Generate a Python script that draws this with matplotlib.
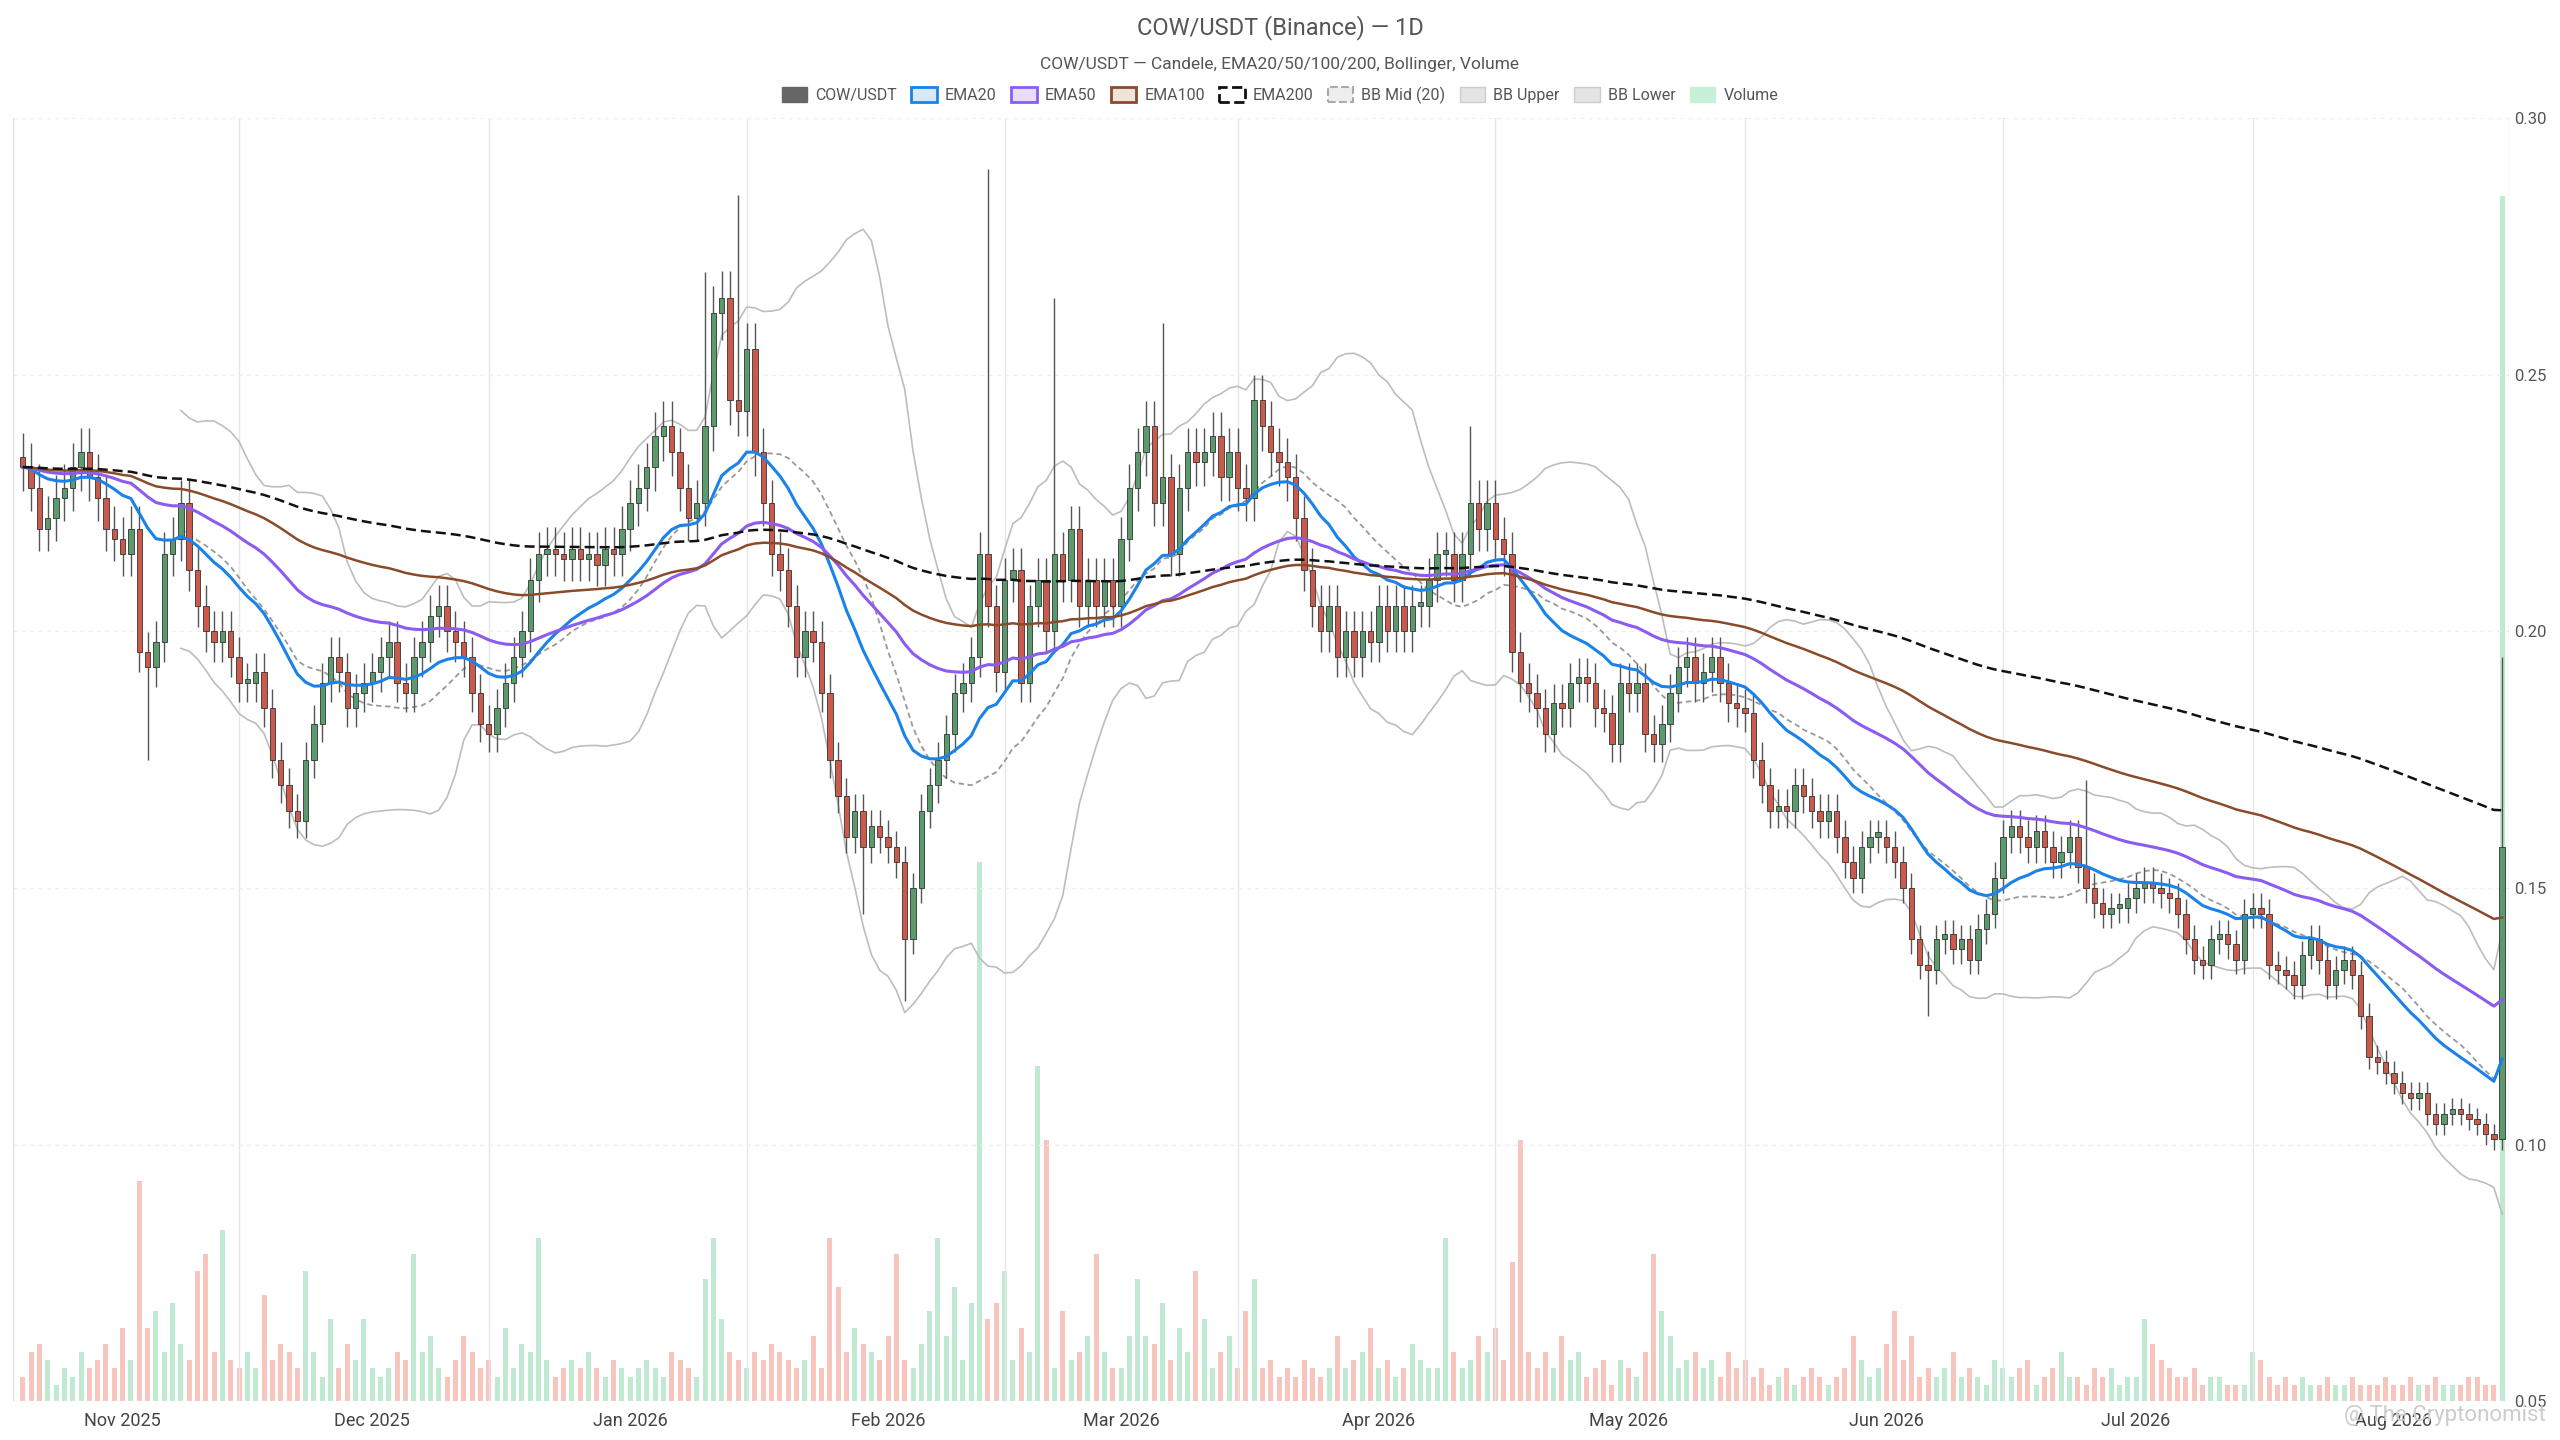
import matplotlib
matplotlib.use('Agg')
import matplotlib.pyplot as plt
import matplotlib.dates as mdates
from matplotlib.patches import Patch
import numpy as np
import pandas as pd

plt.rcParams['font.family'] = ['Roboto', 'DejaVu Sans']

dates = pd.date_range('2025-10-20', '2026-08-14', freq='D')

closes = [
    # Oct 20 - Nov 2
    0.232, 0.228, 0.220, 0.222, 0.226, 0.228, 0.232, 0.235, 0.230, 0.226, 0.220, 0.218, 0.215, 0.220,
    # Nov 3 - Nov 30
    0.196, 0.193, 0.198, 0.215, 0.218, 0.225, 0.212, 0.205, 0.200, 0.198, 0.200, 0.195, 0.190, 0.190,
    0.192, 0.185, 0.175, 0.170, 0.165, 0.163, 0.175, 0.182, 0.190, 0.195, 0.192, 0.185, 0.188, 0.190,
    # Dec
    0.192, 0.195, 0.198, 0.190, 0.188, 0.195, 0.198, 0.203, 0.205, 0.200, 0.198, 0.195, 0.188, 0.182,
    0.180, 0.185, 0.190, 0.195, 0.200, 0.210, 0.215, 0.216, 0.215, 0.214, 0.216, 0.214, 0.215, 0.213,
    0.216, 0.215, 0.220,
    # Jan
    0.225, 0.228, 0.232, 0.238, 0.240, 0.235, 0.228, 0.222, 0.225, 0.240, 0.262, 0.265, 0.245, 0.243,
    0.255, 0.235, 0.225, 0.215, 0.212, 0.205, 0.195, 0.200, 0.198, 0.188, 0.175, 0.168, 0.160, 0.165,
    0.158, 0.162, 0.160,
    # Feb
    0.158, 0.155, 0.140, 0.150, 0.165, 0.170, 0.175, 0.180, 0.188, 0.190, 0.195, 0.215, 0.205, 0.192,
    0.210, 0.212, 0.190, 0.205, 0.210, 0.200, 0.215, 0.210, 0.220, 0.205, 0.210, 0.205, 0.210, 0.205,
    # Mar
    0.218, 0.228, 0.235, 0.240, 0.225, 0.230, 0.215, 0.228, 0.235, 0.233, 0.235, 0.238, 0.230, 0.235,
    0.228, 0.226, 0.245, 0.240, 0.235, 0.233, 0.230, 0.222, 0.212, 0.205, 0.200, 0.205, 0.195, 0.200,
    0.195, 0.200, 0.198,
    # Apr
    0.205, 0.200, 0.205, 0.200, 0.205, 0.205, 0.210, 0.215, 0.215, 0.210, 0.215, 0.225, 0.220, 0.225,
    0.218, 0.215, 0.196, 0.190, 0.188, 0.185, 0.180, 0.186, 0.185, 0.190, 0.191, 0.190, 0.185, 0.184,
    0.178, 0.190,
    # May
    0.188, 0.190, 0.180, 0.178, 0.182, 0.188, 0.193, 0.195, 0.190, 0.192, 0.195, 0.190, 0.186, 0.185,
    0.184, 0.175, 0.170, 0.165, 0.166, 0.165, 0.170, 0.168, 0.165, 0.163, 0.165, 0.160, 0.155, 0.152,
    0.158, 0.160, 0.160,
    # Jun
    0.158, 0.155, 0.150, 0.140, 0.135, 0.134, 0.140, 0.141, 0.138, 0.140, 0.136, 0.142, 0.145, 0.152,
    0.160, 0.162, 0.160, 0.158, 0.161, 0.158, 0.155, 0.157, 0.160, 0.154, 0.150, 0.147, 0.145, 0.146,
    0.146, 0.148,
    # Jul
    0.150, 0.151, 0.150, 0.149, 0.148, 0.145, 0.140, 0.136, 0.135, 0.140, 0.141, 0.139, 0.136, 0.145,
    0.146, 0.145, 0.135, 0.134, 0.133, 0.131, 0.137, 0.140, 0.136, 0.131, 0.134, 0.136, 0.133, 0.125,
    0.117, 0.116, 0.114,
    # Aug 1 - 14
    0.112, 0.110, 0.109, 0.110, 0.106, 0.104, 0.106, 0.107, 0.106, 0.105, 0.104, 0.102, 0.101, 0.158,
]

volumes = [
    15, 30, 35, 25, 10, 20, 15, 30, 20, 25, 35, 20, 45, 25,
    135, 45, 55, 30, 60, 35, 25, 80, 90, 30, 105, 25, 20, 30, 20, 65, 25, 35, 30, 20, 80, 30, 15, 50, 20, 35, 25, 50,
    20, 15, 20, 30, 25, 90, 30, 40, 20, 15, 25, 40, 30, 20, 25, 15, 45, 20, 35, 30, 100, 25, 15, 20, 25, 20, 30, 20, 15, 25, 20,
    15, 20, 25, 20, 15, 30, 25, 20, 15, 75, 100, 50, 30, 25, 20, 30, 25, 35, 30, 25, 20, 25, 40, 20, 100, 70, 30, 45, 35, 30, 25,
    40, 90, 25, 20, 35, 55, 100, 40, 70, 25, 60, 330, 50, 60, 80, 25, 45, 30, 205, 160, 20, 55, 25, 30, 40, 90, 30, 20,
    20, 40, 75, 40, 35, 60, 25, 45, 30, 80, 50, 20, 30, 40, 20, 55, 75, 20, 25, 15, 20, 15, 25, 20, 15, 20, 40, 20, 25, 30, 45,
    20, 25, 15, 20, 35, 25, 20, 20, 100, 30, 20, 25, 40, 30, 45, 25, 85, 160, 30, 20, 30, 20, 40, 25, 30, 15, 20, 25, 10, 25,
    20, 15, 30, 90, 55, 40, 20, 25, 30, 20, 25, 15, 30, 20, 25, 15, 20, 10, 15, 20, 10, 15, 20, 15, 10, 15, 20, 40, 25, 15, 20,
    35, 55, 25, 40, 15, 20, 15, 20, 30, 15, 20, 15, 10, 25, 20, 15, 20, 25, 10, 15, 20, 30, 15, 15, 10, 20, 15, 20, 10, 15,
    15, 50, 35, 25, 20, 15, 15, 20, 10, 15, 15, 10, 10, 10, 30, 25, 15, 10, 15, 10, 15, 10, 10, 15, 10, 10, 15, 10, 10, 10, 15,
    10, 10, 15, 10, 10, 15, 10, 10, 10, 15, 15, 10, 10, 738,
]

# notable wicks
high_spikes = {'2026-01-14': 0.285, '2026-02-13': 0.290, '2026-02-21': 0.265, '2026-03-06': 0.260,
               '2026-04-12': 0.240, '2026-01-10': 0.270, '2026-08-14': 0.195, '2026-06-25': 0.171}
low_spikes = {'2026-02-03': 0.128, '2026-06-06': 0.125, '2025-11-04': 0.175, '2026-01-29': 0.145}

df = pd.DataFrame({'close': closes, 'vol': volumes}, index=dates)
df['open'] = df['close'].shift(1).fillna(0.234)
body_hi = df[['open', 'close']].max(axis=1)
body_lo = df[['open', 'close']].min(axis=1)
df['high'] = body_hi * 1.02
df['low'] = body_lo * 0.98
for d, v in high_spikes.items():
    df.loc[d, 'high'] = v
for d, v in low_spikes.items():
    df.loc[d, 'low'] = v

for n in (20, 50, 100, 200):
    df[f'ema{n}'] = df['close'].ewm(span=n, adjust=False).mean()
mid = df['close'].rolling(20).mean()
sd = df['close'].rolling(20).std(ddof=0)

UP, DN = '#5a9a6c', '#c95a4c'
fig = plt.figure(figsize=(25.6, 14.4), dpi=100)
ax = fig.add_axes([0.005, 0.027, 0.975, 0.891])
axv = ax.twinx()

x = mdates.date2num(df.index)
up = df['close'] >= df['open']
vcol = np.where(up, '#bfe9d0', '#f7c4be')
axv.bar(x, df['vol'], width=0.6, color=vcol, zorder=1)
axv.set_ylim(0, max(volumes) * 1.065)
axv.set_yticks([])
ax.set_zorder(axv.get_zorder() + 1)
ax.patch.set_visible(False)

col = np.where(up, UP, DN)
ax.vlines(x, df['low'], df['high'], color='#555555', lw=1.0, zorder=3)
ax.bar(x, (df['close'] - df['open']).abs().clip(lower=0.0008), bottom=body_lo, width=0.65,
       color=col, edgecolor='#333333', lw=0.6, zorder=4)

ax.plot(x, mid + 2 * sd, color='#bdbdbd', lw=1.2, zorder=2)
ax.plot(x, mid - 2 * sd, color='#bdbdbd', lw=1.2, zorder=2)
ax.plot(x, mid, color='#999999', lw=1.3, ls=(0, (3, 2)), zorder=2)
ax.plot(x, df['ema20'], color='#1a82e8', lw=2.2, zorder=5)
ax.plot(x, df['ema50'], color='#8b5cf0', lw=2.2, zorder=5)
ax.plot(x, df['ema100'], color='#8a4b2a', lw=1.8, zorder=5)
ax.plot(x, df['ema200'], color='#111111', lw=1.8, ls=(0, (4, 2)), zorder=5)

ax.set_ylim(0.05, 0.30)
ax.set_xlim(x[0] - 1.2, x[-1] + 0.8)
ax.yaxis.tick_right()
ax.set_yticks([0.05, 0.10, 0.15, 0.20, 0.25, 0.30])
ax.set_yticklabels([f'{v:.2f}' for v in [0.05, 0.10, 0.15, 0.20, 0.25, 0.30]])
ax.tick_params(axis='y', length=0, labelsize=12, colors='#555555', pad=4)
ax.xaxis.set_major_locator(mdates.MonthLocator())
ax.xaxis.set_major_formatter(mdates.DateFormatter('%b %Y'))
ax.xaxis.set_minor_locator(mdates.MonthLocator(bymonthday=15))
ax.tick_params(axis='x', which='both', length=0, labelsize=13, colors='#444444', pad=8)
ax.grid(axis='x', which='minor', color='#e6e6e6', lw=1.0)
ax.grid(axis='y', color='#eeeeee', lw=1.0, ls=(0, (3, 3)))
for s in ax.spines.values():
    s.set_visible(False)
for s in axv.spines.values():
    s.set_visible(False)
ax.axvline(ax.get_xlim()[1], color='#dddddd', lw=1)
ax.axvline(ax.get_xlim()[0], color='#dddddd', lw=1)

fig.text(0.5, 0.981, 'COW/USDT (Binance) — 1D', ha='center', va='center', fontsize=17, color='#555555')
fig.text(0.5, 0.955, 'COW/USDT — Candele, EMA20/50/100/200, Bollinger, Volume', ha='center', va='center',
         fontsize=12.5, color='#555555')
handles = [
    Patch(facecolor='#666666', edgecolor='#666666', label='COW/USDT'),
    Patch(facecolor='#d6e8fa', edgecolor='#1a82e8', lw=2, label='EMA20'),
    Patch(facecolor='#e8defc', edgecolor='#8b5cf0', lw=2, label='EMA50'),
    Patch(facecolor='#efe3da', edgecolor='#8a4b2a', lw=2, label='EMA100'),
    Patch(facecolor='#ffffff', edgecolor='#111111', lw=2, ls='--', label='EMA200'),
    Patch(facecolor='#eeeeee', edgecolor='#aaaaaa', lw=1.5, ls='--', label='BB Mid (20)'),
    Patch(facecolor='#e4e4e4', edgecolor='#cccccc', label='BB Upper'),
    Patch(facecolor='#e4e4e4', edgecolor='#cccccc', label='BB Lower'),
    Patch(facecolor='#c8efd8', edgecolor='#c8efd8', label='Volume'),
]
fig.legend(handles=handles, loc='center', bbox_to_anchor=(0.5, 0.934), ncol=9, frameon=False,
           fontsize=11.5, handlelength=1.6, handleheight=1.0, columnspacing=0.9, handletextpad=0.5,
           labelcolor='#555555')
fig.text(0.955, 0.017, '@ The Cryptonomist', ha='center', va='center', fontsize=16, color='#cccccc')

fig.savefig('out.png', dpi=100)
